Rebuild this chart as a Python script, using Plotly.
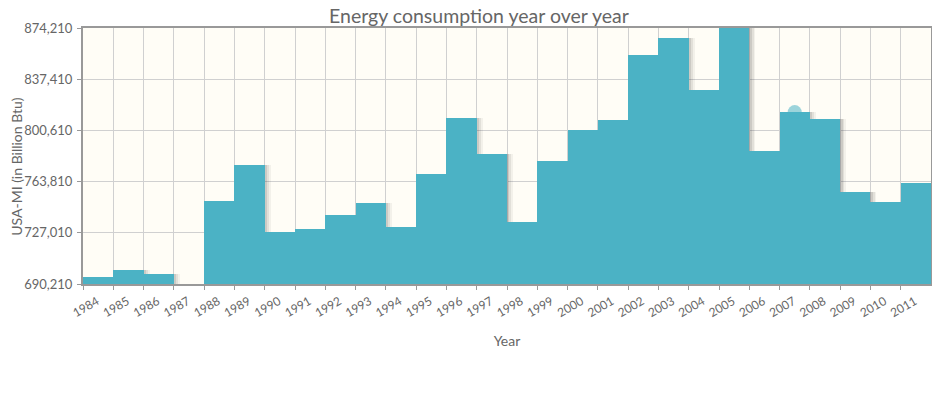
import plotly.graph_objects as go

years = list(range(1984, 2012))
consumption = [695250, 700570, 697190, 690210, 749940, 775630, 727630, 729570,
               739860, 748280, 731230, 768930, 809230, 783330, 734610, 778720,
               800810, 808010, 855000, 867230, 829810, 874210, 785700, 813770,
               808510, 756200, 749000, 762890]
y_ticks = [690210, 727010, 763810, 800610, 837410, 874210]
y_tick_labels = ["690,210", "727,010", "763,810", "800,610", "837,410", "874,210"]
highlight_year = 2007

FONT = "Lato"
BAR = "#4bb2c5"

fig = go.Figure()

# soft shadow to the right of the steps
for off, op in [(0.2, 0.06), (0.14, 0.09), (0.08, 0.12)]:
    fig.add_trace(go.Bar(x=years, y=consumption, width=1, offset=off,
                         marker=dict(color=f"rgba(50,50,50,{op})", line=dict(width=0)),
                         hoverinfo="skip", showlegend=False))

fig.add_trace(go.Bar(x=years, y=consumption, width=1, offset=0,
                     marker=dict(color=BAR, line=dict(width=0)),
                     showlegend=False))

hi = years.index(highlight_year)
fig.add_trace(go.Scatter(x=[highlight_year + 0.5], y=[consumption[hi]], mode="markers",
                         marker=dict(size=14, color="rgba(75,178,197,0.55)"),
                         showlegend=False, hoverinfo="skip"))

fig.update_layout(
    width=940, height=400,
    margin=dict(l=75, r=17, t=20, b=124, autoexpand=False),
    paper_bgcolor="white",
    plot_bgcolor="#fffdf6",
    barmode="overlay", bargap=0,
    font=dict(family=FONT, color="#666666", size=12),
    title=dict(text="Energy consumption year over year", x=0.501, xanchor="center",
               y=0.963, yanchor="bottom", font=dict(family=FONT, size=19.5, color="#666666")),
    annotations=[dict(text="USA-MI (in Billion Btu)", textangle=-90,
                      xref="paper", yref="paper", x=-0.0784, y=0.46,
                      xanchor="center", yanchor="middle", showarrow=False,
                      font=dict(family=FONT, size=14, color="#666666"))],
)

fig.update_xaxes(
    range=[1984, 2012], automargin=False,
    tickmode="array", tickvals=years, ticktext=[str(y) for y in years],
    tickangle=-30, ticklabelshift=14,
    ticks="outside", ticklen=4, tickcolor="#999999",
    showgrid=True, gridcolor="#d0d0d0", gridwidth=1,
    showline=True, linecolor="#999999", linewidth=2, mirror=True,
    tickfont=dict(size=12, color="#666666"),
    title=dict(text="Year", font=dict(size=14, color="#666666"), standoff=17),
    zeroline=False,
)
fig.update_yaxes(
    range=[690210, 874210], automargin=False,
    tickmode="array", tickvals=y_ticks, ticktext=y_tick_labels,
    ticks="outside", ticklen=4, tickcolor="#999999", ticklabelstandoff=2,
    showgrid=True, gridcolor="#d0d0d0", gridwidth=1,
    showline=True, linecolor="#999999", linewidth=2, mirror=True,
    tickfont=dict(size=13, color="#666666"),
    zeroline=False,
)

fig.write_html("out.html")
